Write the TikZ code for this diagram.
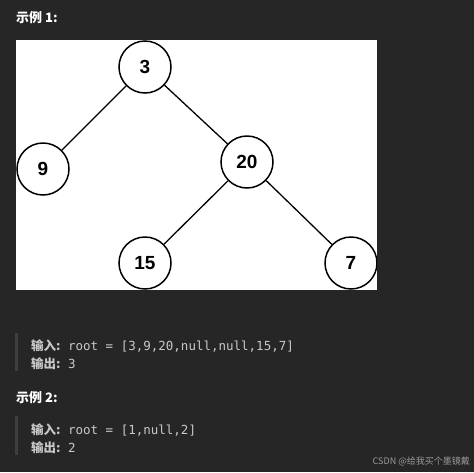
\documentclass[tikz,border=0pt]{standalone}
\usepackage{fontspec}
\setmainfont{Liberation Sans}
\setmonofont{DejaVu Sans Mono}
\newfontfamily\cjk{Noto Sans CJK SC}
\definecolor{pagebg}{HTML}{262626}
\definecolor{quotebar}{HTML}{3E3E3E}
\definecolor{codetxt}{HTML}{C8C8C8}
\definecolor{marktxt}{HTML}{9A9A9A}
\usepackage{tikz}
\usetikzlibrary{positioning}

\begin{document}
\begin{tikzpicture}[
  x=1pt, y=-1pt,
  treenode/.style={draw=black, line width=1.5pt, circle, fill=white,
              minimum size=52pt, inner sep=0pt,
              font=\fontsize{19}{19}\selectfont\bfseries},
  edge/.style={draw=black, line width=1.3pt},
  title/.style={anchor=west, inner sep=0pt, text=white,
              font=\cjk\fontsize{13}{13}\selectfont\bfseries},
  codeline/.style={anchor=west, inner sep=0pt, text=codetxt,
              font=\fontsize{12.5}{12.5}\selectfont\ttfamily},
]
\useasboundingbox[fill=pagebg] (0,0) rectangle (474,472);

% example 1 heading
\node[title] (t1) at (16,18) {示例 1:};

% tree panel
\fill[white] (16,40) rectangle (377,290);
\begin{scope}
\clip (16,40) rectangle (377,290);
\node[treenode] (n3)  at (145,67)  {3};
\node[treenode] (n9)  at (43,169)  {9};
\node[treenode] (n20) at (247,162) {20};
\node[treenode] (n15) at (145,263) {15};
\node[treenode] (n7)  at (351,263) {7};
\draw[edge] (n3) -- (n9);
\draw[edge] (n3) -- (n20);
\draw[edge] (n20) -- (n15);
\draw[edge] (n20) -- (n7);
\end{scope}

% example 1 input / output
\fill[quotebar] (15,333) rectangle (18,371);
\node[codeline] (in1) at (31,346) {{\cjk\bfseries 输入:} root = [3,9,20,null,null,15,7]};
\node[codeline] (out1) at (31,364) {{\cjk\bfseries 输出:} 3};

% example 2
\node[title] (t2) at (16,398) {示例 2:};
\fill[quotebar] (15,416) rectangle (18,455);
\node[codeline] (in2) at (31,430) {{\cjk\bfseries 输入:} root = [1,null,2]};
\node[codeline] (out2) at (31,448) {{\cjk\bfseries 输出:} 2};

% watermark
\node[anchor=east, inner sep=0pt, text=marktxt,
      font=\cjk\fontsize{9}{9}\selectfont] (mark) at (470,461) {CSDN @给我买个墨镜戴};
\end{tikzpicture}
\end{document}
